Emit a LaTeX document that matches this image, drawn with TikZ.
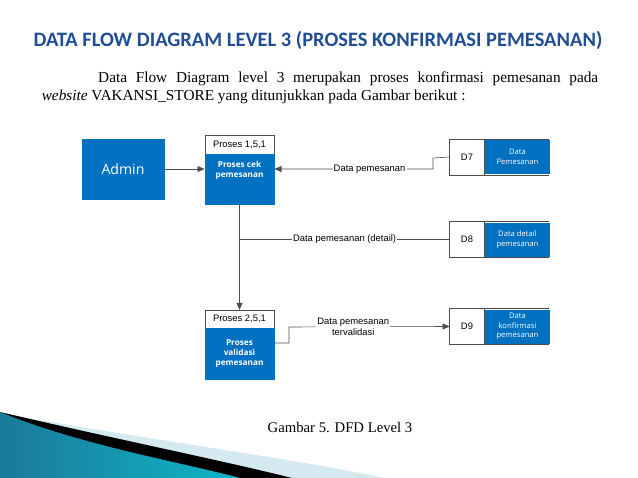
\documentclass[tikz,border=0pt]{standalone}
\usepackage{fontspec}
\setmainfont{Liberation Serif}
\newfontfamily\arialf{Liberation Sans}
\newfontfamily\headf{Carlito}
\newfontfamily\boxf{Open Sans}
\usetikzlibrary{positioning,arrows.meta}
\definecolor{boxblue}{HTML}{0070C0}
\definecolor{titleblue}{HTML}{1F4E96}
\definecolor{teal}{HTML}{1A7A9A}
\definecolor{lightteal}{HTML}{D5E9F0}
\tikzset{
  blue box/.style={fill=boxblue, draw=boxblue, text=white, font=\boxf\bfseries\fontsize{7}{8.5}\selectfont, align=center},
  flow/.style={draw=black!70, line width=0.5pt},
  arrow/.style={flow, -{Triangle[length=6pt,width=5pt]}},
  label/.style={fill=white, inner sep=1pt, font=\arialf\fontsize{8}{9}\selectfont, align=center}
}
\begin{document}
\begin{tikzpicture}[x=0.85pt, y=-0.85pt]
  \useasboundingbox (0,0) rectangle (638,478);

  % swoosh
  \fill[lightteal] (0,413) .. controls (150,440) and (290,458) .. (385,478) -- (0,478) -- cycle;
  \fill[black] (0,412) .. controls (120,440) and (220,460) .. (292,478) -- (0,478) -- cycle;
  \shade[left color=teal, right color=teal!55!cyan] (0,412) .. controls (80,445) and (180,462) .. (240,478) -- (0,478) -- cycle;

  % heading and text
  \node (title) at (318,40) {\headf\bfseries\fontsize{17.4}{19}\selectfont\color{titleblue}DATA FLOW DIAGRAM LEVEL 3 (PROSES KONFIRMASI PEMESANAN)};
  \node[text width=473pt, align=justify, inner sep=0pt, font=\fontsize{13}{15}\selectfont] (intro) at (320,88)
    {\hspace*{48pt}Data Flow Diagram level 3 merupakan proses konfirmasi pemesanan pada\linebreak \textit{website} VAKANSI\_STORE yang ditunjukkan pada Gambar berikut :};
  \node[font=\fontsize{12.5}{15}\selectfont] (caption) at (340,428) {Gambar 5. DFD Level 3};

  % external entity
  \node[blue box, minimum width=70pt, minimum height=51pt, font=\boxf\fontsize{12}{14}\selectfont] (admin) at (123,169) {Admin};

  % processes
  \node[draw=black!70, minimum width=59pt, minimum height=16pt, inner sep=0pt, font=\arialf\fontsize{8}{9}\selectfont] (p1h) at (239.5,144.5) {Proses 1,5,1};
  \node[blue box, minimum width=59pt, minimum height=42pt, below=0pt of p1h] (p1) {Proses cek\\pemesanan\\[8pt]};
  \node[draw=black!70, minimum width=59pt, minimum height=15pt, inner sep=0pt, font=\arialf\fontsize{8}{9}\selectfont] (p2h) at (239.5,319) {Proses 2,5,1};
  \node[blue box, minimum width=59pt, minimum height=43pt, below=0pt of p2h] (p2) {Proses\\validasi\\pemesanan};

  % data stores
  \foreach \id/\y/\txt in {d7/157/{Data\\Pemesanan}, d8/239.5/{Data detail\\pemesanan}, d9/326.5/{Data\\konfirmasi\\pemesanan}} {
    \node[minimum width=29pt, minimum height=30pt, inner sep=0pt, font=\arialf\fontsize{8}{9}\selectfont] (\id) at (467,\y) {\MakeUppercase{\id}};
    \node[blue box, minimum width=54pt, minimum height=28pt, inner sep=0pt, font=\boxf\fontsize{6.5}{8}\selectfont, right=1pt of \id] (\id t) {\txt};
    \draw[black!70] ([xshift=55pt]\id.north east) -- (\id.north west) -- (\id.south west) -- ([xshift=55pt]\id.south east);
    \draw[black!70] (\id.north east) -- (\id.south east);
  }

  % flows
  \draw[arrow] (admin.east |- 0,169) -- (p1.west |- 0,169);
  \coordinate (k7) at (433,158);
  \draw[arrow] (d7.west) -- (k7) -- (433,169) -- node[label, pos=0.4] {Data pemesanan} (p1.east |- 0,169);
  \draw[arrow] (p1.south) -- (p2h.north);
  \draw[flow] (d8.west) -- node[label, pos=0.5] {Data pemesanan (detail)} (p1.south |- d8.west);
  \coordinate (k9) at (289,343);
  \draw[arrow] (p2.east |- k9) -- (k9) -- (289,327) -- node[label, pos=0.4] {Data pemesanan\\tervalidasi} (d9.west);
\end{tikzpicture}
\end{document}
